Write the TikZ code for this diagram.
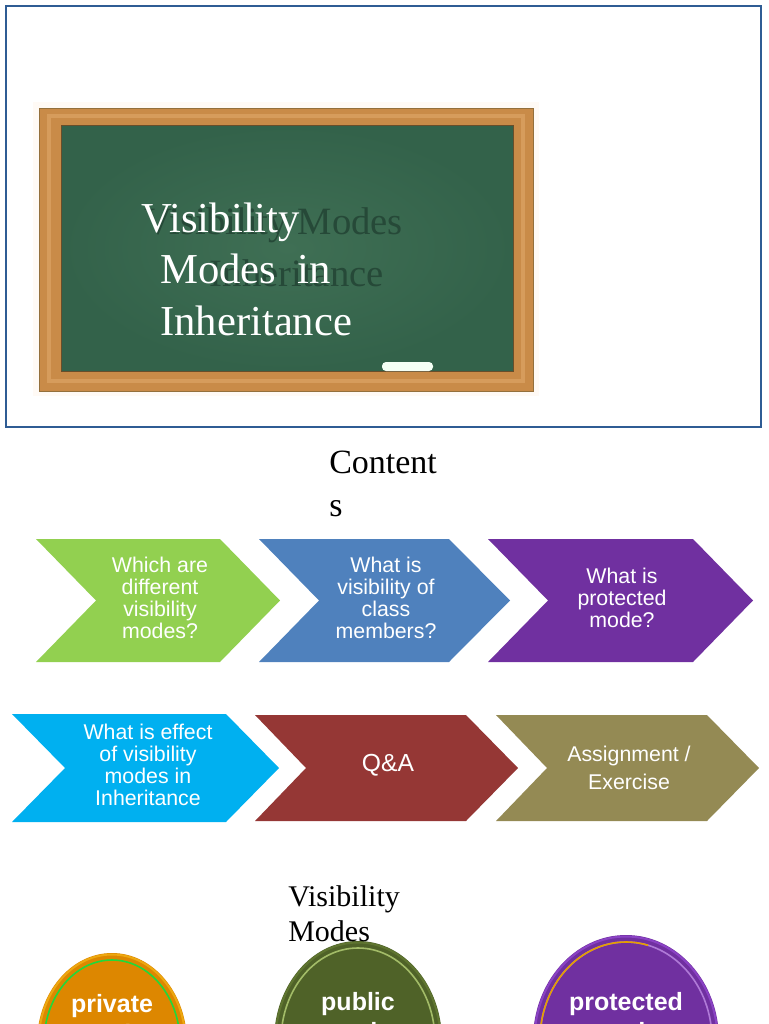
\documentclass[tikz,border=0pt]{standalone}
\usepackage{fontspec}
\setmainfont{Liberation Serif}
\newfontfamily\labelfont{Liberation Sans}
\definecolor{framecol}{HTML}{2F5C94}
\definecolor{woodcol}{HTML}{C98B48}
\definecolor{woodlite}{HTML}{D69C5C}
\definecolor{woodedge}{HTML}{94703C}
\definecolor{boardcol}{HTML}{33624A}
\definecolor{boardlite}{HTML}{3F6F54}
\definecolor{chevgreen}{HTML}{92D050}
\definecolor{chevblue}{HTML}{4F81BD}
\definecolor{chevviolet}{HTML}{7030A0}
\definecolor{chevcyan}{HTML}{00B0F0}
\definecolor{chevred}{HTML}{953735}
\definecolor{chevolive}{HTML}{948A54}
\definecolor{modeorange}{HTML}{DD8700}
\definecolor{modegreen}{HTML}{4F6228}
\definecolor{ringgreen}{HTML}{22D83A}
\definecolor{ringolive}{HTML}{A3BC68}
\definecolor{ringviolet}{HTML}{B07AD8}
\definecolor{rimorange}{HTML}{EDA80F}
\definecolor{rimgreen}{HTML}{5F7530}
\definecolor{rimviolet}{HTML}{8A42C4}
\tikzset{
    chevlabel/.style = {text=white, align=center, inner sep=0pt, font=\labelfont\fontsize{16}{16.5}\selectfont},
    modelabel/.style = {text=white, align=center, inner sep=0pt, anchor=north, font=\labelfont\bfseries\fontsize{18.75}{22.5}\selectfont},
    boardtext/.style = {text=white, inner sep=0pt, anchor=base west, font=\fontsize{32}{39}\selectfont},
    ghosttext/.style = {text=boardcol!75!black, inner sep=0pt, font=\fontsize{29}{39}\selectfont},
    heading/.style = {text=black, inner sep=0pt, anchor=base west},
}
\newcommand{\chev}[7]{\fill[#7] (#1,#5) -- (#3,#5) -- (#4,#5/2+#6/2) -- (#3,#6) -- (#1,#6) -- (#2,#5/2+#6/2) -- cycle;}

\begin{document}
\begin{tikzpicture}[x=0.75pt,y=-0.75pt]
    \useasboundingbox (0,0) rectangle (768,1024);
    %title slide
    \draw[framecol,line width=1.2pt] (6,6) rectangle (761,427);
    \fill[orange!4] (33,102) rectangle (539,396);
    \fill[woodcol] (39,108) rectangle (533,391);
    \draw[woodlite,line width=3pt] (49,116) rectangle (523,381);
    \draw[woodedge,line width=0.7pt] (39,108) rectangle (533,391);
    \shade[inner color=boardlite,outer color=boardcol] (61,125) rectangle (513,371);
    \draw[woodedge!70!black,line width=0.5pt] (61,125) rectangle (513,371);
    \fill[white!96!green,rounded corners=3pt] (382,362) rectangle (433,371);
    \node[ghosttext,anchor=base west] (ghosta) at (144,234) {Visibility Modes};
    \node[ghosttext,anchor=base east] (ghostb) at (384,286) {Inheritance};
    \node[boardtext] (titlea) at (141,232) {Visibility};
    \node[boardtext] (titleb) at (160,283) {Modes\ \ in};
    \node[boardtext] (titlec) at (160,335) {Inheritance};
    %contents
    \node[heading,font=\fontsize{25.5}{32}\selectfont] (conta) at (329,473) {Content};
    \node[heading,font=\fontsize{25.5}{32}\selectfont] (contb) at (329,516) {s};
    \chev{36}{96}{220}{280}{539}{662}{chevgreen}
    \chev{259}{319}{449}{510}{539}{662}{chevblue}
    \chev{488}{548}{693}{753}{539}{662}{chevviolet}
    \chev{12}{65}{226}{279}{714}{822}{chevcyan}
    \chev{255}{306}{466}{518}{715}{821}{chevred}
    \chev{496}{547}{707}{759}{715}{821}{chevolive}
    \node[chevlabel] (cha) at (160,598) {Which are\\different\\visibility\\modes?};
    \node[chevlabel] (chb) at (386,598) {What is\\visibility of\\class\\members?};
    \node[chevlabel] (chc) at (622,598) {What is\\protected\\mode?};
    \node[chevlabel] (chd) at (148,765) {What is effect\\of visibility\\modes in\\Inheritance};
    \node[chevlabel,font=\labelfont\fontsize{18.5}{20}\selectfont] (che) at (388,765) {Q\&A};
    \node[chevlabel,font=\labelfont\fontsize{16}{21}\selectfont] (chf) at (629,768) {Assignment /\\Exercise};
    %visibility modes
    \begin{scope}
        \clip (0,0) rectangle (768,1024);
        \foreach \nm/\cx/\cy/\rx/\ry/\fl/\rim/\rng/\ty/\txt in {
            pvt/112/1043/75/90/modeorange/rimorange/ringgreen/994/private,
            pub/358/1041/84/100/modegreen/rimgreen/ringolive/992/public,
            pro/626/1040/93/105/chevviolet/rimviolet/ringviolet/992/protected}{
            \fill[\fl] (\cx,\cy) ellipse [x radius=\rx, y radius=\ry];
            \draw[\rim,line width=1.5pt] (\cx,\cy) ellipse [x radius=\rx-1.5, y radius=\ry-1.5];
            \draw[\rng,line width=1.2pt] (\cx,\cy) ellipse [x radius=\rx-7, y radius=\ry-7];
            \node[modelabel] (\nm) at (\cx,\ty) {\txt\\mode};
        }
        \draw[modeorange!80!yellow,line width=1.2pt] (626,1040) ++(180:86 and 98) arc [start angle=180, end angle=285, x radius=86, y radius=98];
    \end{scope}
    \node[heading,font=\fontsize{22.5}{28}\selectfont] (visa) at (288,906) {Visibility};
    \node[heading,font=\fontsize{22.5}{28}\selectfont] (visb) at (288,941) {Modes};
\end{tikzpicture}
\end{document}
